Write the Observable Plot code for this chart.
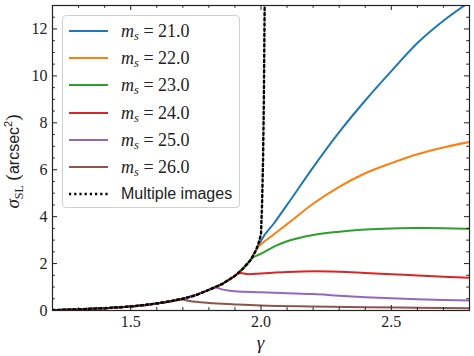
<!DOCTYPE html>
<html>
<head>
<meta charset="utf-8">
<script src="https://cdn.jsdelivr.net/npm/d3@7"></script>
<script src="https://cdn.jsdelivr.net/npm/@observablehq/plot@0.6"></script>
<style>
  html, body { margin: 0; padding: 0; background: #fff; }
  #wrap { position: relative; width: 474px; height: 356px; }
  #legend {
    position: absolute; left: 62px; top: 15px; width: 178px; height: 193px;
    border: 1px solid #d0d0d0; border-radius: 4px; background: rgba(255,255,255,0.85);
    box-sizing: border-box;
  }
  .row { position: absolute; left: 0; height: 20px; width: 100%; }
  .row svg { position: absolute; left: 5px; top: 0; }
  .lab { position: absolute; left: 58px; top: 0; line-height: 20px; white-space: nowrap; color: #222; }
  .math { font-family: "Liberation Serif", serif; font-size: 18px; }
  .math i { font-style: italic; }
  .math sub { font-size: 12.5px; vertical-align: -3px; line-height: 0; font-style: italic; }
  .sans { font-family: "Liberation Sans", sans-serif; font-size: 16px; }
</style>
</head>
<body>
<div id="wrap"></div>
<script>
// ---- data ----
const mLabels = ["21.0", "22.0", "23.0", "24.0", "25.0", "26.0"];
const colors = ["#1f77b4", "#ff7f0e", "#2ca02c", "#d62728", "#9467bd", "#8c564b"];

// "Multiple images" curve
const gMulti = [1.2, 1.3, 1.4, 1.5, 1.6, 1.65, 1.7, 1.75, 1.8, 1.85, 1.9, 1.93, 1.96, 1.98, 1.99, 2.0, 2.004, 2.008, 2.011, 2.014, 2.016];
const sMulti = [0.02, 0.05, 0.1, 0.17, 0.3, 0.39, 0.5, 0.65, 0.88, 1.12, 1.48, 1.78, 2.15, 2.55, 2.85, 3.25, 4.5, 6.5, 9.0, 13.0, 14.0];

// m_s = 21.0
const g21 = [1.2, 1.3, 1.4, 1.5, 1.6, 1.7, 1.8, 1.9, 1.96, 1.98, 1.995, 2.0, 2.05, 2.1, 2.2, 2.3, 2.4, 2.5, 2.6, 2.7, 2.8];
const s21 = [0.02, 0.05, 0.1, 0.17, 0.3, 0.5, 0.88, 1.48, 2.15, 2.55, 2.85, 2.97, 3.72, 4.5, 6.1, 7.6, 8.95, 10.2, 11.4, 12.35, 13.15];
// m_s = 22.0
const g22 = [1.2, 1.3, 1.4, 1.5, 1.6, 1.7, 1.8, 1.9, 1.96, 1.98, 1.99, 2.0, 2.05, 2.1, 2.2, 2.3, 2.4, 2.5, 2.6, 2.7, 2.8];
const s22 = [0.02, 0.05, 0.1, 0.17, 0.3, 0.5, 0.88, 1.48, 2.15, 2.55, 2.72, 2.82, 3.25, 3.68, 4.55, 5.27, 5.85, 6.28, 6.66, 6.95, 7.18];
// m_s = 23.0
const g23 = [1.2, 1.3, 1.4, 1.5, 1.6, 1.7, 1.8, 1.9, 1.93, 1.965, 2.0, 2.05, 2.1, 2.2, 2.3, 2.4, 2.5, 2.6, 2.7, 2.8];
const s23 = [0.02, 0.05, 0.1, 0.17, 0.3, 0.5, 0.88, 1.48, 1.78, 2.22, 2.42, 2.72, 2.95, 3.22, 3.36, 3.45, 3.5, 3.52, 3.51, 3.48];
// m_s = 24.0
const g24 = [1.2, 1.3, 1.4, 1.5, 1.6, 1.7, 1.8, 1.85, 1.9, 1.92, 1.95, 2.0, 2.1, 2.2, 2.3, 2.4, 2.5, 2.6, 2.7, 2.8];
const s24 = [0.02, 0.05, 0.1, 0.17, 0.3, 0.5, 0.88, 1.12, 1.48, 1.6, 1.55, 1.58, 1.64, 1.67, 1.65, 1.6, 1.55, 1.49, 1.44, 1.39];
// m_s = 25.0
const g25 = [1.2, 1.3, 1.4, 1.5, 1.6, 1.7, 1.75, 1.8, 1.83, 1.85, 1.875, 1.9, 2.0, 2.1, 2.2, 2.3, 2.4, 2.5, 2.6, 2.7, 2.8];
const s25 = [0.02, 0.05, 0.1, 0.17, 0.3, 0.5, 0.65, 0.88, 0.97, 0.9, 0.85, 0.82, 0.78, 0.74, 0.7, 0.63, 0.57, 0.52, 0.48, 0.45, 0.43];
// m_s = 26.0
const g26 = [1.2, 1.3, 1.4, 1.5, 1.6, 1.65, 1.69, 1.72, 1.75, 1.8, 1.9, 2.0, 2.2, 2.4, 2.6, 2.8];
const s26 = [0.02, 0.05, 0.1, 0.17, 0.3, 0.39, 0.48, 0.42, 0.37, 0.32, 0.26, 0.21, 0.17, 0.14, 0.12, 0.1];

const xMajor = [1.5, 2.0, 2.5];
const xMinor = [1.3, 1.4, 1.6, 1.7, 1.8, 1.9, 2.1, 2.2, 2.3, 2.4, 2.6, 2.7];
const yMajor = [0, 2, 4, 6, 8, 10, 12];
const yMinor = [0.5, 1, 1.5, 2.5, 3, 3.5, 4.5, 5, 5.5, 6.5, 7, 7.5, 8.5, 9, 9.5, 10.5, 11, 11.5, 12.5];

// ---- build table ----
const gArr = [g21, g22, g23, g24, g25, g26];
const sArr = [s21, s22, s23, s24, s25, s26];
const rows = [];
gArr.forEach((g, k) => g.forEach((x, i) => rows.push({series: mLabels[k], gamma: x, sigma: sArr[k][i]})));
const multi = gMulti.map((x, i) => ({gamma: x, sigma: sMulti[i]}));

const SERIF = "'Liberation Serif', serif";
const SANS = "'Liberation Sans', sans-serif";
const W = 474, H = 356, mL = 52, mR = 5, mT = 5, mB = 46;
const plotW = W - mL - mR, plotH = H - mT - mB;
const maj = 5, minr = 2.8;

const chart = Plot.plot({
  width: W, height: H,
  marginLeft: mL, marginRight: mR, marginTop: mT, marginBottom: mB,
  style: {background: "white", fontFamily: SERIF, fontSize: "16px", color: "#222"},
  x: {domain: [1.2, 2.8], ticks: xMajor, tickSize: 0, tickPadding: 5, tickFormat: d3.format(".1f"), label: null},
  y: {domain: [0, 13], ticks: yMajor, tickSize: 0, tickPadding: 5, tickFormat: d => String(d), label: null},
  color: {domain: mLabels, range: colors},
  marks: [
    Plot.line(rows, {x: "gamma", y: "sigma", z: "series", stroke: "series", strokeWidth: 2, clip: true, curve: "monotone-x"}),
    Plot.line(multi, {x: "gamma", y: "sigma", stroke: "black", strokeWidth: 2.4, strokeDasharray: "2.2 3", clip: true}),
    // inward ticks on all four sides
    Plot.ruleX(xMajor, {x: d => d, insetTop: plotH - maj, stroke: "#222"}),
    Plot.ruleX(xMajor, {x: d => d, insetBottom: plotH - maj, stroke: "#222"}),
    Plot.ruleX(xMinor, {x: d => d, insetTop: plotH - minr, stroke: "#222"}),
    Plot.ruleX(xMinor, {x: d => d, insetBottom: plotH - minr, stroke: "#222"}),
    Plot.ruleY(yMajor, {y: d => d, insetRight: plotW - maj, stroke: "#222"}),
    Plot.ruleY(yMajor, {y: d => d, insetLeft: plotW - maj, stroke: "#222"}),
    Plot.ruleY(yMinor, {y: d => d, insetRight: plotW - minr, stroke: "#222"}),
    Plot.ruleY(yMinor, {y: d => d, insetLeft: plotW - minr, stroke: "#222"}),
    Plot.frame({stroke: "#222", strokeWidth: 1.2})
  ]
});

const wrap = document.getElementById("wrap");
wrap.appendChild(chart);
// make sure all tick text uses the serif face
d3.select(chart).selectAll("text").style("font-family", SERIF);

// axis titles
const svg = d3.select(chart);
svg.append("text")
  .attr("x", mL + plotW / 2).attr("y", 349)
  .attr("text-anchor", "middle")
  .style("font-family", SERIF).style("font-style", "italic").style("font-size", "19px")
  .attr("fill", "#222")
  .text("γ");

const yl = svg.append("text")
  .attr("transform", `translate(19,${mT + plotH / 2 + 4}) rotate(-90)`)
  .attr("text-anchor", "middle").attr("fill", "#222");
yl.append("tspan").style("font-family", SERIF).style("font-style", "italic").style("font-size", "19px").text("σ");
yl.append("tspan").style("font-family", SERIF).style("font-size", "12px").attr("dy", 4).text("SL");
yl.append("tspan").style("font-family", SERIF).style("font-size", "19px").attr("dy", -4).text(" (");
yl.append("tspan").style("font-family", SANS).style("font-size", "16px").text("arcsec");
yl.append("tspan").style("font-family", SANS).style("font-size", "11px").attr("dy", -7).text("2");
yl.append("tspan").style("font-family", SERIF).style("font-size", "19px").attr("dy", 7).text(")");

// legend
const legend = document.createElement("div");
legend.id = "legend";
const entries = mLabels.map((m, k) => ({label: m, color: colors[k], dash: null}));
entries.push({label: null, color: "black", dash: "2.2 3"});
entries.forEach((e, i) => {
  const row = document.createElement("div");
  row.className = "row";
  row.style.top = (5 + i * 27.2) + "px";
  const ls = d3.create("svg").attr("width", 42).attr("height", 20);
  ls.append("line").attr("x1", 1).attr("x2", 40).attr("y1", 10).attr("y2", 10)
    .attr("stroke", e.color).attr("stroke-width", e.dash ? 2.4 : 2)
    .attr("stroke-dasharray", e.dash);
  row.appendChild(ls.node());
  const lab = document.createElement("div");
  if (e.label) {
    lab.className = "lab math";
    lab.innerHTML = `<i>m</i><sub>s</sub> = ${e.label}`;
  } else {
    lab.className = "lab sans";
    lab.textContent = "Multiple images";
  }
  row.appendChild(lab);
  legend.appendChild(row);
});
wrap.appendChild(legend);
</script>
</body>
</html>
